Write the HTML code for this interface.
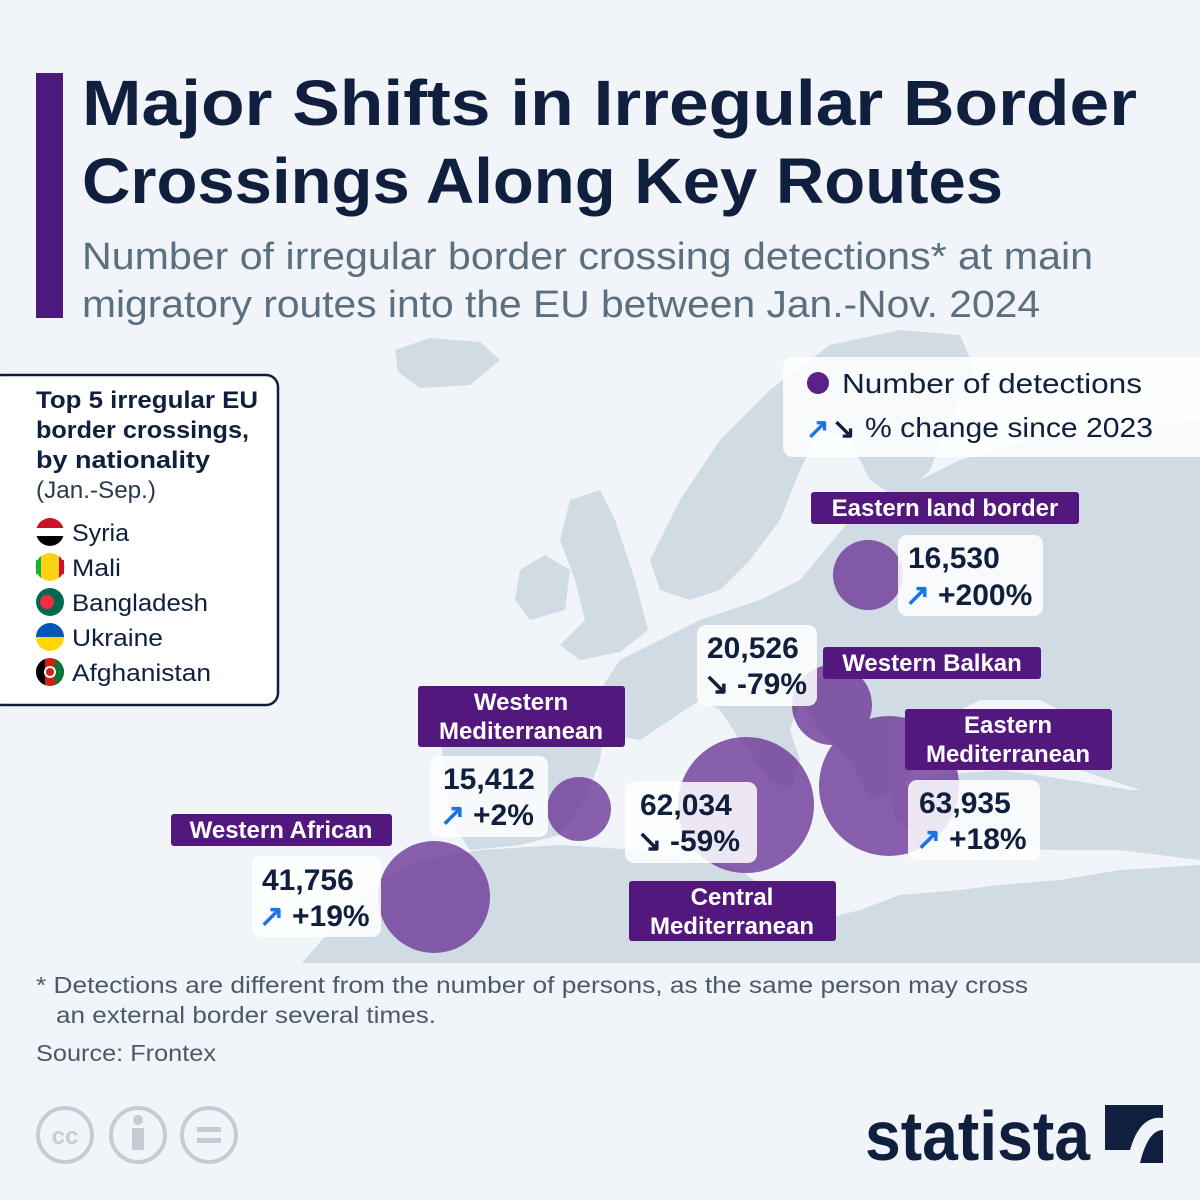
<!DOCTYPE html>
<html><head><meta charset="utf-8"><style>
html,body{margin:0;padding:0;background:#f1f5f9}
svg{display:block}
text{font-family:"Liberation Sans",sans-serif}
</style></head><body>
<svg width="1200" height="1200" viewBox="0 0 1200 1200" xmlns="http://www.w3.org/2000/svg">
<rect width="1200" height="1200" fill="#f1f5f9"/>
<g fill="#d0dbe3">
<path d="M395 350 L430 338 L480 342 L500 360 L470 385 L420 388 L398 372Z"/>
<path d="M520 570 L545 555 L570 570 L565 610 L530 620 L515 600Z"/>
<path d="M570 500 L600 490 L615 520 L635 580 L648 630 L620 652 L580 660 L560 645 L585 620 L575 580 L560 540Z"/>
<path d="M650 560 L680 500 L720 440 L770 390 L830 345 L900 330 L960 335 L975 370 L950 420 L930 470 L900 500 L870 480 L850 440 L820 430 L800 470 L780 520 L750 560 L720 590 L690 600 L660 590Z"/>
<path d="M600 690 L620 660 L660 640 L700 620 L760 600 L800 580 L850 520 L900 490 L960 460 L1030 440 L1200 420 L1200 790 L1140 790 L1080 770 L1060 760 L1080 720 L1040 700 L980 700 L940 720 L920 760 L900 790 L870 800 L850 760 L820 730 L800 700 L790 730 L800 760 L790 790 L770 780 L740 740 L720 710 L700 700 L670 720 L640 740 L610 735 L600 720Z"/>
<path d="M440 730 L500 715 L560 712 L605 722 L600 760 L585 800 L560 835 L520 845 L470 850 L450 820 L445 780Z"/>
<path d="M890 790 L940 775 L1000 770 L1070 780 L1130 790 L1200 790 L1200 860 L1120 850 L1050 850 L980 845 L930 840 L895 820Z"/>
<path d="M300 965 L340 920 L380 880 L420 860 L480 850 L560 845 L640 850 L700 860 L740 870 L780 900 L820 920 L860 910 L900 895 L960 890 L1000 885 L1060 880 L1120 870 L1200 865 L1200 965Z"/>
</g>
<rect x="0" y="963" width="1200" height="237" fill="#f1f5f9"/>
<rect x="36" y="73" width="27" height="245" fill="#4b1a7c"/>
<text x="82" y="125" font-size="64" font-weight="bold" fill="#0f1f3d" textLength="1055" lengthAdjust="spacingAndGlyphs">Major Shifts in Irregular Border</text>
<text x="82" y="203" font-size="64" font-weight="bold" fill="#0f1f3d" textLength="921" lengthAdjust="spacingAndGlyphs">Crossings Along Key Routes</text>
<text x="82" y="269" font-size="38" fill="#5b6f80" textLength="1011" lengthAdjust="spacingAndGlyphs">Number of irregular border crossing detections* at main</text>
<text x="82" y="317" font-size="38" fill="#5b6f80" textLength="958" lengthAdjust="spacingAndGlyphs">migratory routes into the EU between Jan.-Nov. 2024</text>
<rect x="-10" y="375" width="288" height="330" rx="12" fill="#fff" stroke="#0f1f3d" stroke-width="2.5"/>
<g font-size="24" fill="#0f1f3d">
<text x="36" y="408" font-weight="bold" textLength="222" lengthAdjust="spacingAndGlyphs">Top 5 irregular EU</text>
<text x="36" y="438" font-weight="bold" textLength="213" lengthAdjust="spacingAndGlyphs">border crossings,</text>
<text x="36" y="468" font-weight="bold" textLength="174" lengthAdjust="spacingAndGlyphs">by nationality</text>
<text x="36" y="498" fill="#2a3a50" textLength="120" lengthAdjust="spacingAndGlyphs">(Jan.-Sep.)</text>
<text x="72" y="541" textLength="57" lengthAdjust="spacingAndGlyphs">Syria</text><text x="72" y="576" textLength="49" lengthAdjust="spacingAndGlyphs">Mali</text><text x="72" y="611" textLength="136" lengthAdjust="spacingAndGlyphs">Bangladesh</text><text x="72" y="646" textLength="91" lengthAdjust="spacingAndGlyphs">Ukraine</text><text x="72" y="681" textLength="139" lengthAdjust="spacingAndGlyphs">Afghanistan</text>
</g>
<g>
<circle cx="50" cy="532" r="14" fill="#fff"/><path d="M36 532 a14 14 0 0 1 28 0Z" fill="#ce1126"/><path d="M36 532 a14 14 0 0 0 28 0Z" fill="#000"/><rect x="36" y="528" width="28" height="8" fill="#fff"/>
<circle cx="50" cy="567" r="14" fill="#fcd116"/><path d="M41 556 A14 14 0 0 0 41 578Z" fill="#14b53a"/><path d="M59 556 A14 14 0 0 1 59 578Z" fill="#ce1126"/><rect x="36" y="560" width="5" height="14" fill="#14b53a"/><rect x="59" y="560" width="5" height="14" fill="#ce1126"/>
<circle cx="50" cy="602" r="14" fill="#006a4e"/><circle cx="47" cy="602" r="7" fill="#f42a41"/>
<path d="M36 637 a14 14 0 0 1 28 0Z" fill="#0057b7"/><path d="M36 637 a14 14 0 0 0 28 0Z" fill="#ffd700"/>
<circle cx="50" cy="672" r="14" fill="#d32011"/><path d="M36 672 a14 14 0 0 1 9 -13 v26 a14 14 0 0 1 -9 -13Z" fill="#000"/><path d="M64 672 a14 14 0 0 0 -9 -13 v26 a14 14 0 0 0 9 -13Z" fill="#007a36"/><circle cx="50" cy="672" r="5" fill="none" stroke="#fff" stroke-width="2"/>
</g>
<rect x="783" y="357" width="430" height="100" rx="10" fill="#fff" opacity="0.85"/>
<circle cx="818" cy="383" r="11" fill="#5a2188"/>
<text x="842" y="393" font-size="28" fill="#0f1f3d" textLength="300" lengthAdjust="spacingAndGlyphs">Number of detections</text>
<text x="806" y="438" font-size="28" font-weight="bold" fill="#1a73e8">↗</text><text x="832" y="438" font-size="28" font-weight="bold" fill="#0f1f3d">↘</text>
<text x="865" y="437" font-size="28" fill="#0f1f3d" textLength="288" lengthAdjust="spacingAndGlyphs">% change since 2023</text>
<g fill="#6a3496" opacity="0.78">
<circle cx="434" cy="897" r="56"/><circle cx="579" cy="809" r="32"/><circle cx="746" cy="805" r="68"/><circle cx="832" cy="705" r="40"/><circle cx="889" cy="786" r="70"/><circle cx="868" cy="575" r="35"/>
</g>
<g fill="#52187e">
<rect x="811" y="492" width="268" height="32" rx="3"/>
<rect x="823" y="647" width="218" height="32" rx="3"/>
<rect x="418" y="686" width="207" height="61" rx="3"/>
<rect x="905" y="709" width="207" height="61" rx="3"/>
<rect x="171" y="814" width="221" height="32" rx="3"/>
<rect x="629" y="881" width="207" height="60" rx="3"/>
</g>
<g fill="#fff" font-size="24" font-weight="bold" text-anchor="middle">
<text x="945" y="516">Eastern land border</text>
<text x="932" y="671">Western Balkan</text>
<text x="521" y="710">Western</text><text x="521" y="739">Mediterranean</text>
<text x="1008" y="733">Eastern</text><text x="1008" y="762">Mediterranean</text>
<text x="281" y="838">Western African</text>
<text x="732" y="905">Central</text><text x="732" y="934">Mediterranean</text>
</g>
<g fill="#fff" opacity="0.85">
<rect x="898" y="535" width="145" height="81" rx="9"/>
<rect x="697" y="625" width="120" height="81" rx="9"/>
<rect x="430" y="756" width="118" height="81" rx="9"/>
<rect x="625" y="782" width="132" height="81" rx="9"/>
<rect x="908" y="780" width="132" height="80" rx="9"/>
<rect x="252" y="856" width="129" height="81" rx="9"/>
</g>
<g font-size="30" font-weight="bold" fill="#0f1f3d">
<text x="908" y="568">16,530</text><text x="938" y="605">+200%</text>
<text x="707" y="658">20,526</text><text x="737" y="694">-79%</text>
<text x="443" y="789">15,412</text><text x="473" y="825">+2%</text>
<text x="640" y="815">62,034</text><text x="670" y="851">-59%</text>
<text x="919" y="813">63,935</text><text x="949" y="849">+18%</text>
<text x="262" y="890">41,756</text><text x="292" y="926">+19%</text>
</g>
<g font-size="30" font-weight="bold">
<text x="905" y="605" fill="#1a73e8">↗</text>
<text x="704" y="694" fill="#0f1f3d">↘</text>
<text x="440" y="825" fill="#1a73e8">↗</text>
<text x="637" y="851" fill="#0f1f3d">↘</text>
<text x="916" y="849" fill="#1a73e8">↗</text>
<text x="259" y="926" fill="#1a73e8">↗</text>
</g>
<g font-size="23" fill="#4a5a6a">
<text x="36" y="993" textLength="992" lengthAdjust="spacingAndGlyphs">* Detections are different from the number of persons, as the same person may cross</text>
<text x="56" y="1023" textLength="380" lengthAdjust="spacingAndGlyphs">an external border several times.</text>
<text x="36" y="1061" textLength="180" lengthAdjust="spacingAndGlyphs">Source: Frontex</text>
</g>
<g fill="none" stroke="#c5ccd4" stroke-width="4">
<circle cx="65" cy="1135" r="27"/><circle cx="138" cy="1135" r="27"/><circle cx="209" cy="1135" r="27"/>
</g>
<text x="65" y="1144" font-size="24" font-weight="bold" fill="#c5ccd4" text-anchor="middle">cc</text>
<circle cx="138" cy="1120" r="5" fill="#c5ccd4"/><rect x="132" y="1128" width="12" height="22" fill="#c5ccd4"/>
<rect x="197" y="1127" width="24" height="5" fill="#c5ccd4"/><rect x="197" y="1138" width="24" height="5" fill="#c5ccd4"/>
<text x="865" y="1160" font-size="70" font-weight="bold" fill="#0f1f3d" textLength="225" lengthAdjust="spacingAndGlyphs">statista</text>
<rect x="1105" y="1105" width="58" height="58" fill="#0f1f3d"/>
<path d="M1105 1150 L1130 1150 Q1140 1115 1163 1118 L1163 1130 Q1148 1130 1140 1163 L1105 1163Z" fill="#f1f5f9"/>
</svg>
</body></html>
